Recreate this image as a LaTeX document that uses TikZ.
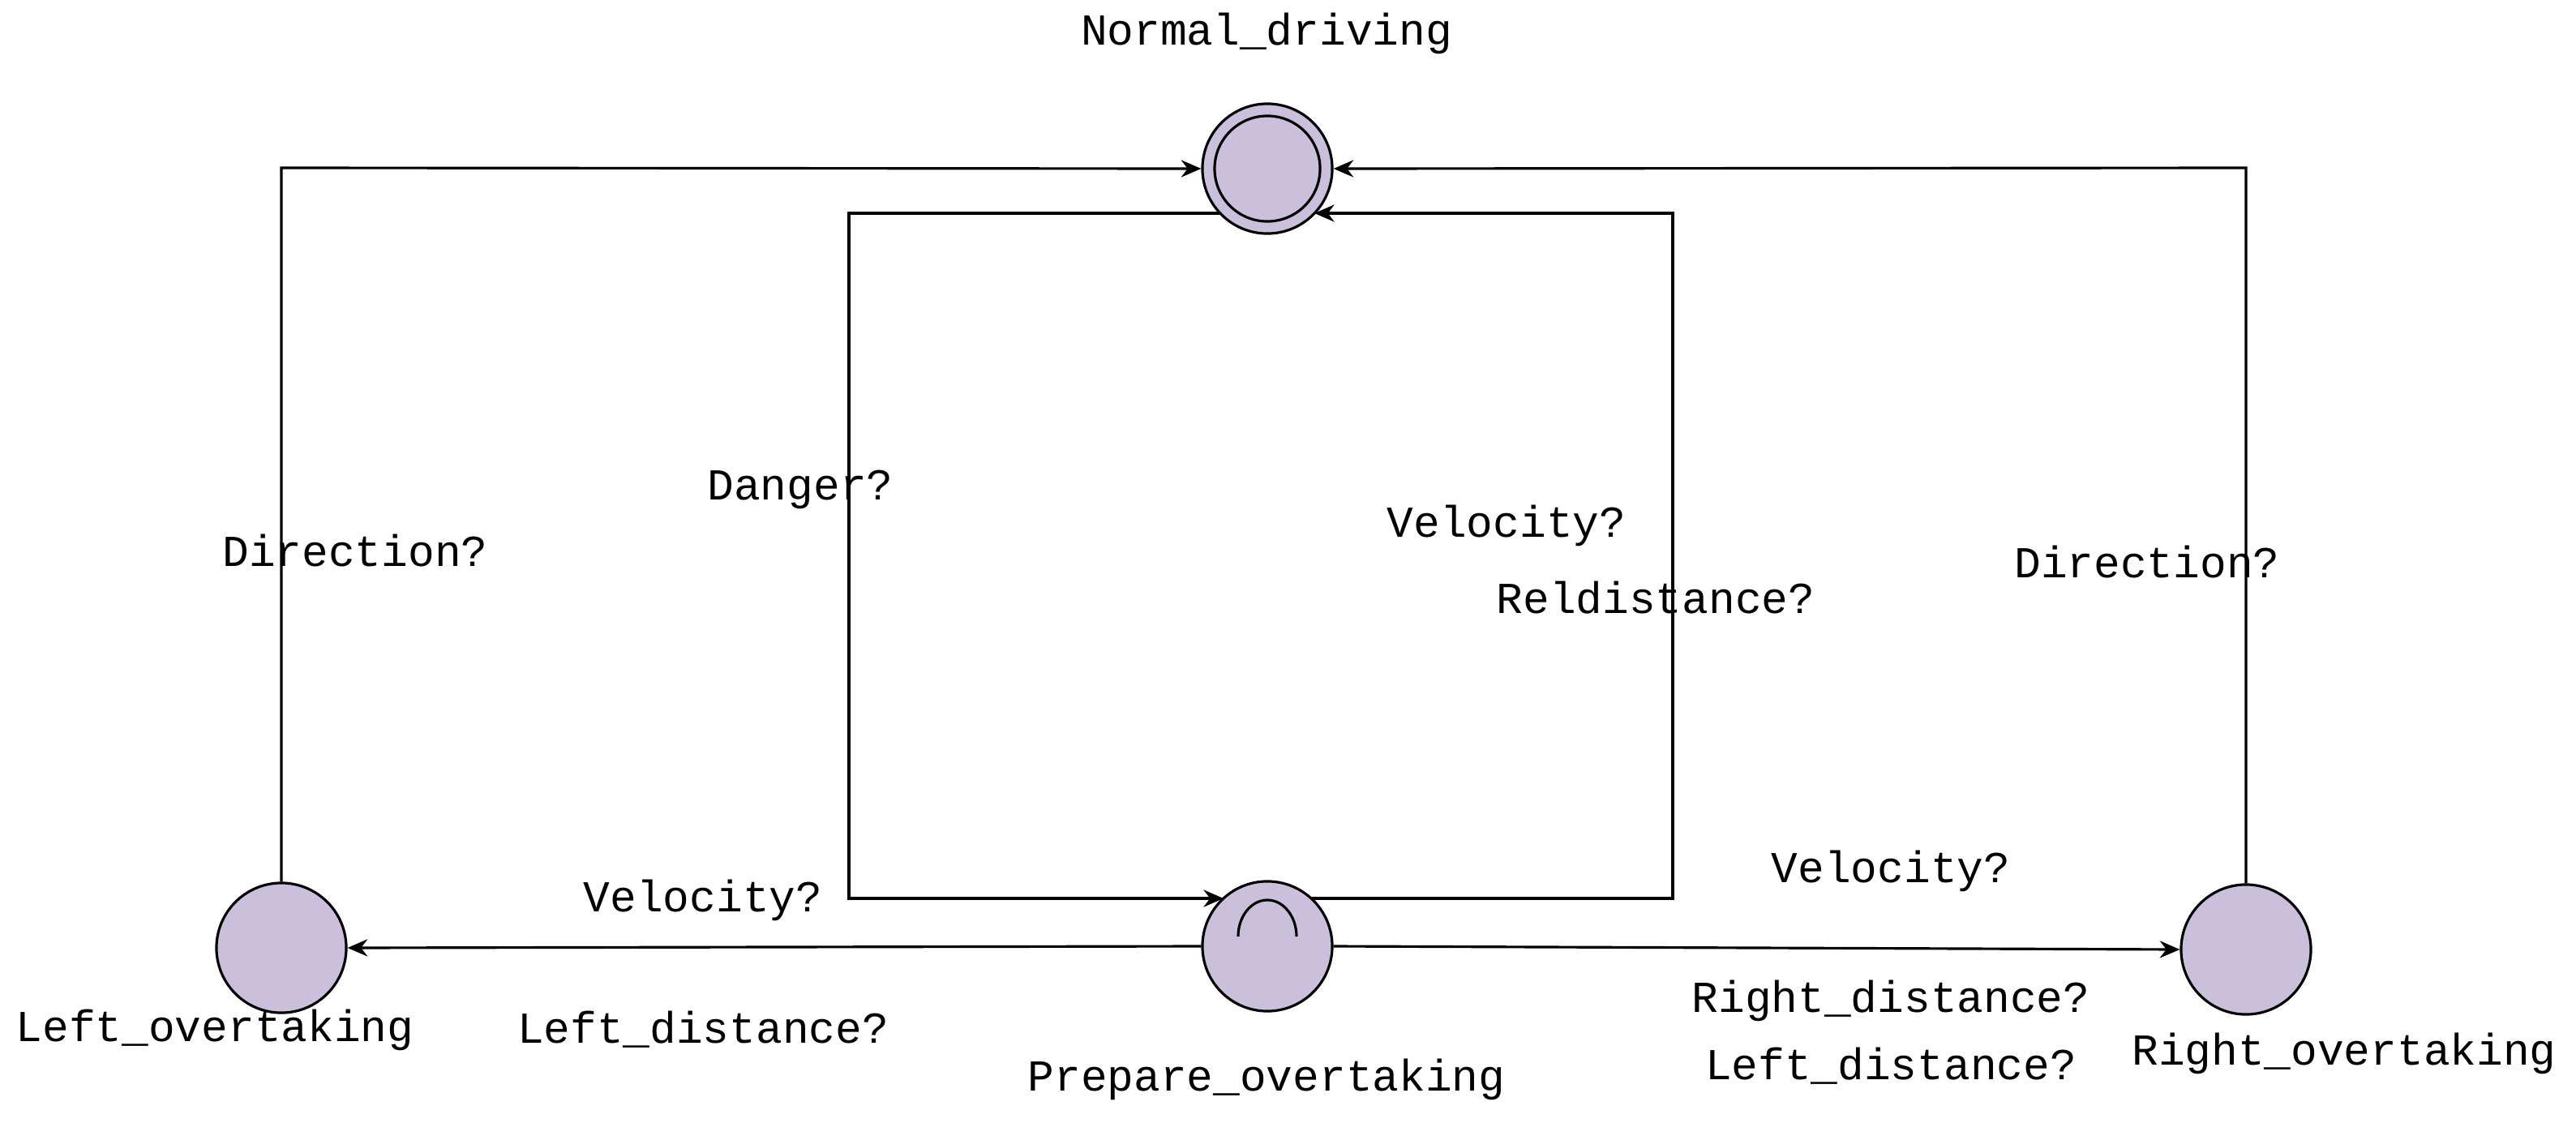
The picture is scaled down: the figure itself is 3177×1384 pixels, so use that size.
\documentclass[tikz,border=0pt]{standalone}
\usetikzlibrary{arrows.meta}
\usepackage{fontspec}
\setmainfont{Liberation Mono}
\begin{document}
\begin{tikzpicture}[x=0.01cm,y=-0.01cm,
  st/.style={circle,draw,line width=0.9pt,fill=lav,minimum size=1.6cm,inner sep=0pt},
  ar/.style={line width=0.9pt,-{Stealth[length=7pt,width=6pt]}},
  lb/.style={font=\fontsize{15.5}{18}\selectfont,inner sep=0pt}]
\definecolor{lav}{RGB}{202,192,220}
\useasboundingbox (0,0) rectangle (3177,1384);
\node[st] (N) at (1563,208) {};
\draw[line width=0.9pt] (N) circle (0.65cm);
\node[st] (P) at (1563,1167) {};
\draw[line width=0.9pt] (1527,1155) arc (180:360:36 and 45);
\node[st] (L) at (347,1169) {};
\node[st] (R) at (2770,1171) {};
\coordinate (a1) at (347,207);
\coordinate (a2) at (2770,207);
\coordinate (n1) at (1505,263);
\coordinate (n2) at (1621,263);
\coordinate (p1) at (1509,1108);
\coordinate (p2) at (1617,1108);
\coordinate (b1) at (1047,263);
\coordinate (b2) at (1047,1108);
\coordinate (c1) at (2063,1108);
\coordinate (c2) at (2063,263);
\draw[ar] (L.north) -- (a1) -- (N.west);
\draw[ar] (R.north) -- (a2) -- (N.east);
\draw[ar] (n1) -- (b1) -- (b2) -- (p1);
\draw[ar] (p2) -- (c1) -- (c2) -- (n2);
\draw[ar] (P.west) -- (L.east);
\draw[ar] (P.east) -- (R.west);
\node[lb] (tN) at (1562,41) {Normal\_driving};
\node[lb] (t1) at (438,679) {Direction?};
\node[lb] (t2) at (987,604) {Danger?};
\node[lb] (t3) at (1858,648) {Velocity?};
\node[lb] (t4) at (2042,737) {Reldistance?};
\node[lb] (t5) at (2648,693) {Direction?};
\node[lb] (t6) at (867,1110) {Velocity?};
\node[lb] (t7) at (867,1270) {Left\_distance?};
\node[lb] (t8) at (2332,1074) {Velocity?};
\node[lb] (t9) at (2332,1234) {Right\_distance?};
\node[lb] (t10) at (2332,1315) {Left\_distance?};
\node[lb] (tL) at (265,1270) {Left\_overtaking};
\node[lb] (tP) at (1562,1331) {Prepare\_overtaking};
\node[lb] (tR) at (2891,1299) {Right\_overtaking};
\end{tikzpicture}
\end{document}
